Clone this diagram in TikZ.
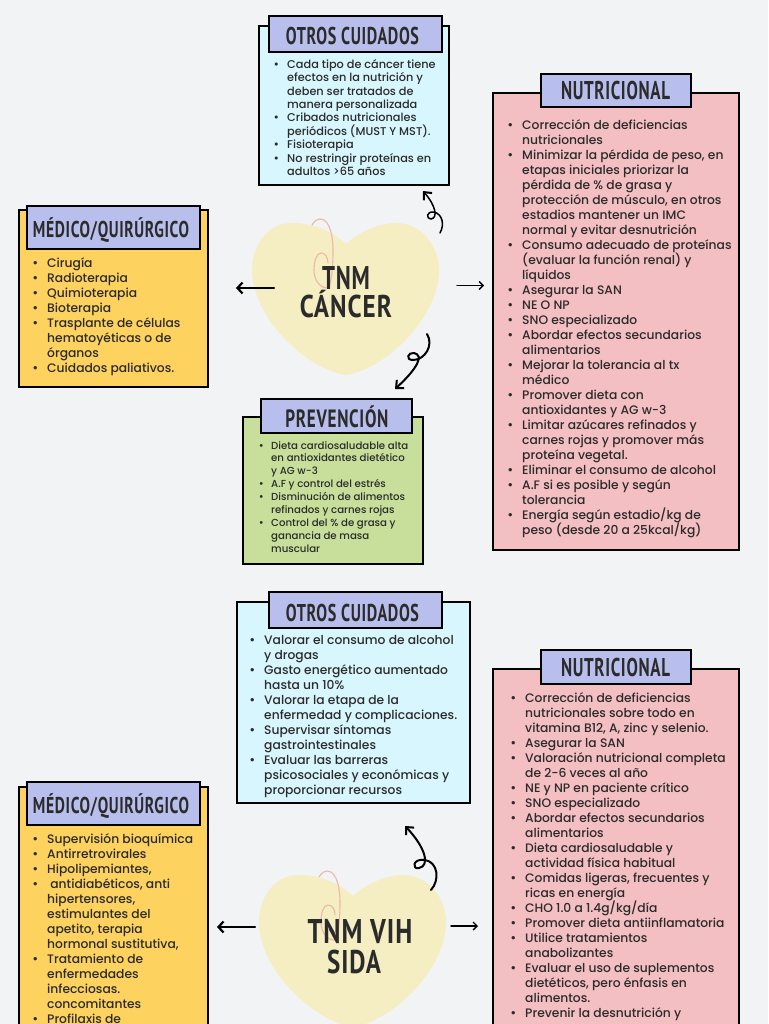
\documentclass[tikz,border=0pt]{standalone}
\usepackage{graphicx}
\usepackage{fontspec}
\setmainfont{Poppins Medium}
\newfontfamily\ttlfont[FakeStretch=0.75,LetterSpace=3]{PT Sans Bold}
\usetikzlibrary{arrows.meta}
\definecolor{bgc}{HTML}{F2F3F5}
\definecolor{hdrc}{HTML}{B9BFEC}
\definecolor{bluec}{HTML}{D8F6FE}
\definecolor{pinkc}{HTML}{F4BFC2}
\definecolor{yelc}{HTML}{FDD25E}
\definecolor{grnc}{HTML}{C7DF9B}
\definecolor{heartc}{HTML}{F5EEC2}
\definecolor{swirlc}{HTML}{EDB7A9}
\definecolor{txtc}{HTML}{2B2B2B}
\newcommand{\bu}{\makebox[0pt][r]{\scalebox{1.05}{•}\hspace{.72em}}}
\newlength\capht
\newcommand{\ttl}[3]{{\ttlfont\settoheight\capht{H}\resizebox{#1pt}{#2pt}{\raisebox{0pt}[\capht][0pt]{#3}}}}
\tikzset{
  x=1pt,y=-1pt,
  panel/.style={draw=black,line width=1.7pt},
  hdr/.style={draw=black,line width=1.7pt,fill=hdrc},
  ttlnode/.style={anchor=base,inner sep=0pt,text=txtc},
  bl/.style={anchor=north west,inner sep=0pt,align=left,text=txtc},
  fa/.style={bl,font=\fontsize{12.3}{15}\selectfont},
  fb/.style={bl,font=\fontsize{11.3}{13.45}\selectfont},
  fc/.style={bl,font=\fontsize{10.2}{12.9}\selectfont},
  curly/.style={draw=black,line width=2pt,line cap=round,-{Straight Barb[length=6pt,width=11pt,line width=2pt]}},
  straight/.style={draw=black,line width=2.2pt,line cap=round,-{Straight Barb[length=5pt,width=11pt,line width=2.2pt]}},
  thinarrow/.style={draw=black,line width=1.4pt,line cap=round,-{Straight Barb[length=4pt,width=8pt,line width=1.4pt]}},
  swirl/.style={draw=swirlc,line width=1.1pt,line cap=round},
}
\newcommand{\heartshape}[1]{%
  \begin{scope}[shift={(#1)}]
  \fill[heartc] (0,-131) .. controls (-12,-142) and (-30,-152) .. (-54,-152)
    .. controls (-80,-152) and (-94,-128) .. (-94,-105)
    .. controls (-94,-58) and (-40,-6) .. (0,0)
    .. controls (40,-6) and (93,-58) .. (93,-105)
    .. controls (93,-128) and (76,-152) .. (50,-152)
    .. controls (32,-152) and (12,-142) .. (0,-131) -- cycle;
  \draw[swirl] (-34,-150) .. controls (-31,-155) and (-28,-156) .. (-26,-156)
    .. controls (-15,-156) and (-13,-135) .. (-13,-125)
    .. controls (-13,-105) and (-15,-87) .. (-19,-87)
    .. controls (-26,-87) and (-32,-95) .. (-32,-105)
    .. controls (-32,-115) and (-29,-122) .. (-25,-122)
    .. controls (-21,-122) and (-18,-118) .. (-18,-112);
  \end{scope}}
\begin{document}
\begin{tikzpicture}
\clip (0,0) rectangle (768,1024);
\fill[bgc] (0,0) rectangle (768,1024);

% hearts
\heartshape{346,375}
\heartshape{353,1027}

% panels
\draw[panel,fill=bluec] (259,26) rectangle (449,185);
\draw[hdr] (269,16) rectangle (442,52);
\draw[panel,fill=pinkc] (493,93) rectangle (739,550);
\draw[hdr] (541,74) rectangle (691,107);
\draw[panel,fill=yelc] (19,210) rectangle (208,387);
\draw[hdr] (27,206) rectangle (200,249);
\draw[panel,fill=grnc] (243,417) rectangle (423,564);
\draw[hdr] (261,399) rectangle (412,433);
\draw[panel,fill=bluec] (237,602) rectangle (470,803);
\draw[hdr] (269,592) rectangle (442,628);
\draw[panel,fill=pinkc] (493,669) rectangle (739,1040);
\draw[hdr] (541,650) rectangle (691,684);
\draw[panel,fill=yelc] (19,787) rectangle (208,1040);
\draw[hdr] (27,782) rectangle (200,825);

% titles
\node[ttlnode] (t1) at (352.5,45) {\ttl{133}{17}{OTROS CUIDADOS}};
\node[ttlnode] (t2) at (615.5,100) {\ttl{109}{18}{NUTRICIONAL}};
\node[ttlnode] (t3) at (111,237) {\ttl{156}{16}{MÉDICO/QUIRÚRGICO}};
\node[ttlnode] (t4) at (337,427) {\ttl{103}{17.5}{PREVENCIÓN}};
\node[ttlnode] (t5) at (352.5,621) {\ttl{133}{17}{OTROS CUIDADOS}};
\node[ttlnode] (t6) at (615.5,676) {\ttl{109}{18}{NUTRICIONAL}};
\node[ttlnode] (t7) at (111,813) {\ttl{156}{16}{MÉDICO/QUIRÚRGICO}};
\node[ttlnode] (c1) at (346,289) {\ttl{48}{23}{TNM}};
\node[ttlnode] (c2) at (346,317) {\ttl{92}{22}{CÁNCER}};
\node[ttlnode] (c3) at (360,943) {\ttl{105}{24}{TNM VIH}};
\node[ttlnode] (c4) at (354,973) {\ttl{54}{23}{SIDA}};

% lists
\node[fb] (l1) at (287,59) {\bu Cada tipo de cáncer tiene\\efectos en la nutrición y\\deben ser tratados de\\manera personalizada\\\bu Cribados nutricionales\\periódicos (MUST Y MST).\\\bu Fisioterapia\\\bu No restringir proteínas en\\adultos >65 años};
\node[fa] (l2) at (522,119) {\bu Corrección de deficiencias\\nutricionales\\\bu Minimizar la pérdida de peso, en\\etapas iniciales priorizar la\\pérdida de \% de grasa y\\protección de músculo, en otros\\estadios mantener un IMC\\normal y evitar desnutrición\\\bu Consumo adecuado de proteínas\\(evaluar la función renal) y\\líquidos\\\bu Asegurar la SAN\\\bu NE O NP\\\bu SNO especializado\\\bu Abordar efectos secundarios\\alimentarios\\\bu Mejorar la tolerancia al tx\\médico\\\bu Promover dieta con\\antioxidantes y AG w-3\\\bu Limitar azúcares refinados y\\carnes rojas y promover más\\proteína vegetal.\\\bu Eliminar el consumo de alcohol\\\bu A.F si es posible y según\\tolerancia\\\bu Energía según estadio/kg de\\peso (desde 20 a 25kcal/kg)};
\node[fa] (l3) at (47,258) {\bu Cirugía\\\bu Radioterapia\\\bu Quimioterapia\\\bu Bioterapia\\\bu Trasplante de células\\hematoyéticas o de\\órganos\\\bu Cuidados paliativos.};
\node[fc] (l4) at (271,441) {\bu Dieta cardiosaludable alta\\en antioxidantes dietético\\y AG w-3\\\bu A.F y control del estrés\\\bu Disminución de alimentos\\refinados y carnes rojas\\\bu Control del \% de grasa y\\ganancia de masa\\muscular};
\node[fa] (l5) at (264,635) {\bu Valorar el consumo de alcohol\\y drogas\\\bu Gasto energético aumentado\\hasta un 10\%\\\bu Valorar la etapa de la\\enfermedad y complicaciones.\\\bu Supervisar síntomas\\gastrointestinales\\\bu Evaluar las barreras\\psicosociales y económicas y\\proporcionar recursos};
\node[fa] (l6) at (525,692) {\bu Corrección de deficiencias\\nutricionales sobre todo en\\vitamina B12, A, zinc y selenio.\\\bu Asegurar la SAN\\\bu Valoración nutricional completa\\de 2-6 veces al año\\\bu NE y NP en paciente crítico\\\bu SNO especializado\\\bu Abordar efectos secundarios\\alimentarios\\\bu Dieta cardiosaludable y\\actividad física habitual\\\bu Comidas ligeras, frecuentes y\\ricas en energía\\\bu CHO 1.0 a 1.4g/kg/día\\\bu Promover dieta antiinflamatoria\\\bu Utilice tratamientos\\anabolizantes\\\bu Evaluar el uso de suplementos\\dietéticos, pero énfasis en\\alimentos.\\\bu Prevenir la desnutrición y};
\node[fa] (l7) at (47,833) {\bu Supervisión bioquímica\\\bu Antirretrovirales\\\bu Hipolipemiantes,\\\bu \ antidiabéticos, anti\\hipertensores,\\estimulantes del\\apetito, terapia\\hormonal sustitutiva,\\\bu Tratamiento de\\enfermedades\\infecciosas.\\concomitantes\\\bu Profilaxis de};

% connector ends
\coordinate (a1s) at (274,288); \coordinate (a1e) at (236,288);
\coordinate (a2s) at (457,285.5); \coordinate (a2e) at (484,285.5);
\coordinate (a3s) at (255,927); \coordinate (a3e) at (217,927);
\coordinate (a4s) at (451,926); \coordinate (a4e) at (478,926);
\coordinate (a5s) at (440,233); \coordinate (a5e) at (423,191);
\coordinate (a6s) at (427,334); \coordinate (a6e) at (395,389);
\coordinate (a7s) at (431,890); \coordinate (a7e) at (405,826);

\draw[straight] (a1s) -- (a1e);
\draw[thinarrow] (a2s) -- (a2e);
\draw[straight] (a3s) -- (a3e);
\draw[thinarrow] (a4s) -- (a4e);
\draw[curly,line width=1.5pt] (a5s) .. controls (445,224) and (442,214) .. (434,212)
  .. controls (426,211) and (426,219) .. (431,219)
  .. controls (438,218) and (436,206) .. (a5e);
\draw[curly] (a6s) .. controls (434,345) and (425,360) .. (413,360)
  .. controls (405,360) and (408,352) .. (414,353)
  .. controls (424,355) and (418,368) .. (a6e);
\draw[curly] (a7s) .. controls (440,880) and (438,862) .. (425,860)
  .. controls (412,858) and (412,870) .. (419,868)
  .. controls (430,866) and (426,848) .. (a7e);
\end{tikzpicture}
\end{document}
